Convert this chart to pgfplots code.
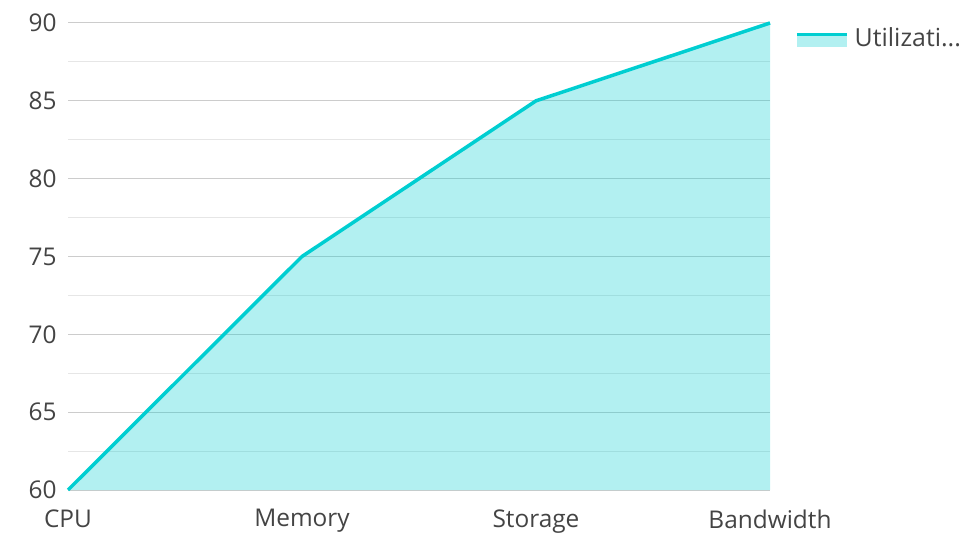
\documentclass[border=0pt]{standalone}
\usepackage{pgfplots}
\pgfplotsset{compat=1.18}
\usepackage{fontspec}
\setmainfont{Open Sans}
\definecolor{turq}{HTML}{00CED1}
\definecolor{txt}{HTML}{444444}
\definecolor{majgrid}{HTML}{CCCCCC}
\definecolor{mingrid}{HTML}{E6E6E6}
\begin{document}
\begin{tikzpicture}
\begin{axis}[
  at={(68bp,43bp)}, anchor=south west,
  scale only axis, width=702bp, height=467bp,
  xmin=0, xmax=3, ymin=60, ymax=90,
  xtick={0,1,2,3}, xticklabels={CPU,Memory,Storage,Bandwidth},
  ytick={60,65,...,90},
  minor ytick={62.5,67.5,...,87.5},
  ymajorgrids, yminorgrids,
  major grid style={majgrid, line width=1pt},
  minor grid style={mingrid, line width=1pt},
  axis line style={draw=none},
  major tick length=0pt, minor tick length=0pt,
  tick style={draw=none},
  /pgf/number format/assume math mode=true,
  ticklabel style={font=\fontsize{24.5}{28}\selectfont, text=txt},
  xticklabel style={yshift=-16bp},
  yticklabel style={xshift=-8bp},
  legend style={at={(rel axis cs:1.0356,0.968)}, anchor=west, draw=none, fill=none, inner sep=0pt,
    font=\fontsize{25}{28}\selectfont, text=txt},
  legend cell align=left,
  legend image code/.code={
    \path[fill=turq, fill opacity=0.3, draw=none] (0bp,-9bp) rectangle (50bp,5bp);
    \path[draw=turq, draw opacity=1, line width=3.5bp] (0bp,3.5bp) -- (50bp,3.5bp);
    \path (54bp,0bp);
  },
  clip=false,
]
\addplot[draw=none, fill=turq, fill opacity=0.3, forget plot] coordinates {(0,60) (1,75) (2,85) (3,90)} \closedcycle;
\addplot[turq, line width=3.5bp] coordinates {(0,60) (1,75) (2,85) (3,90)};
\addlegendentry{Utilizati...}
\end{axis}
\pgfresetboundingbox
\path (0,0) rectangle (962bp,533bp);
\end{tikzpicture}
\end{document}
